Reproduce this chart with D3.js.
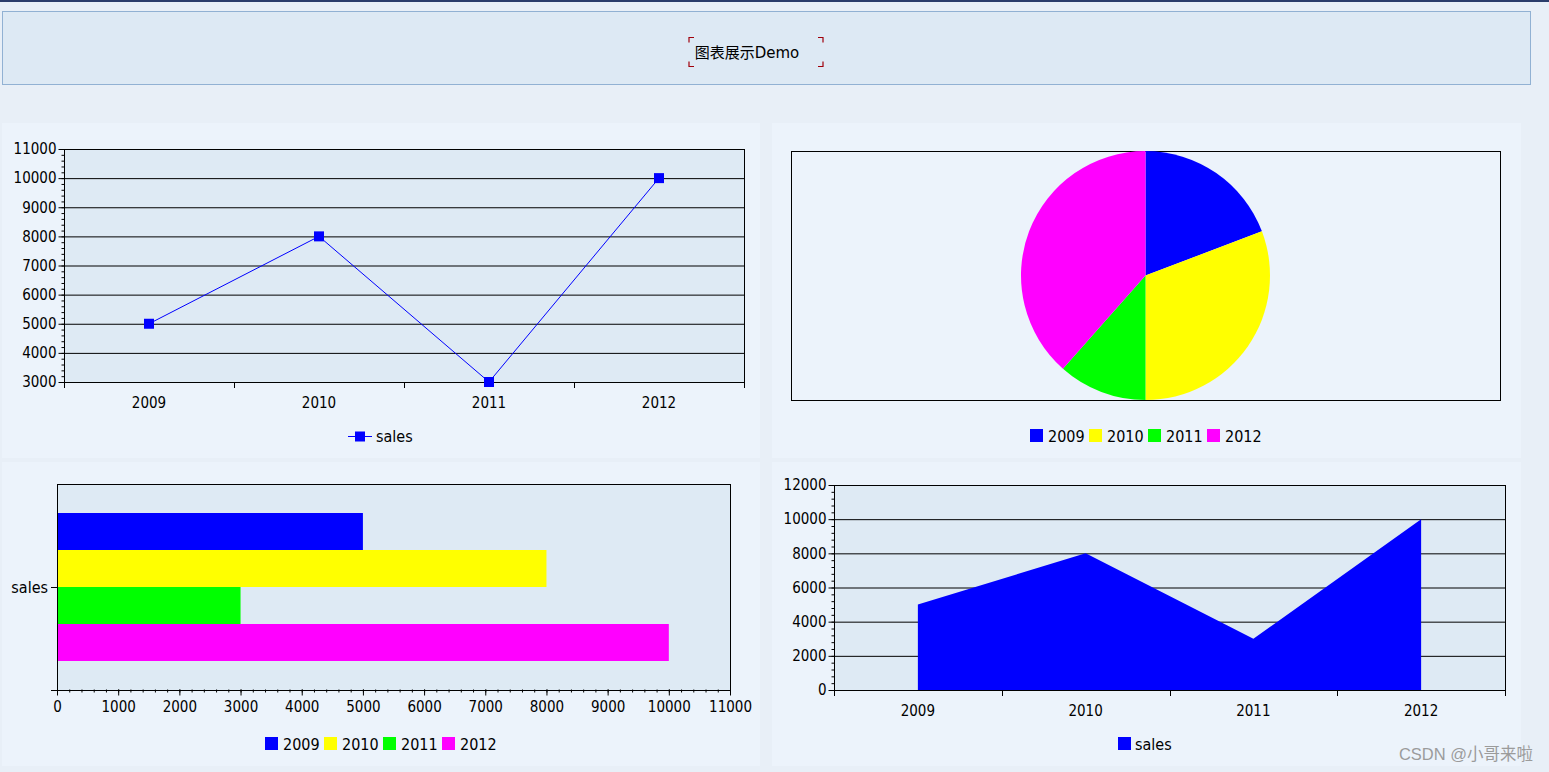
<!DOCTYPE html>
<html>
<head>
<meta charset="utf-8">
<script src="https://cdn.jsdelivr.net/npm/d3@7"></script>
<style>
  html, body { margin: 0; padding: 0; background: #E8EFF7; overflow: hidden; }
  svg { display: block; }
  text { font-family: "DejaVu Sans Condensed", "DejaVu Sans", "Noto Sans CJK SC", sans-serif; fill: #000; }
</style>
</head>
<body>
<svg id="chart" width="1549" height="772"></svg>
<script>
// ---------------- data ----------------
const titleText = "图表展示Demo";
const categories = ["2009", "2010", "2011", "2012"];
const sales = [5000, 8000, 3000, 10000];
const seriesName = "sales";
const sliceColors = ["#0000FF", "#FFFF00", "#00FF00", "#FF00FF"];
const lineTicks = [3000, 4000, 5000, 6000, 7000, 8000, 9000, 10000, 11000];
const barTicks = [0, 1000, 2000, 3000, 4000, 5000, 6000, 7000, 8000, 9000, 10000, 11000];
const areaTicks = [0, 2000, 4000, 6000, 8000, 10000, 12000];
const watermark = "CSDN @小哥来啦";

// ---------------- styles ----------------
const PAGE = "#E8EFF7", PANEL = "#ECF3FB", PLOT = "#DEEAF4";
const FONT = 15;

const svg = d3.select("#chart");
svg.append("rect").attr("width", 1549).attr("height", 772).attr("fill", PAGE);
svg.append("rect").attr("x", 0).attr("y", 0).attr("width", 1549).attr("height", 2).attr("fill", "#2B3D6B");

// title box
svg.append("rect").attr("x", 2.5).attr("y", 11.5).attr("width", 1528).attr("height", 73)
  .attr("fill", "#DDE9F4").attr("stroke", "#91B1D3").attr("stroke-width", 1);
svg.append("text").attr("x", 747).attr("y", 58).attr("text-anchor", "middle")
  .style("font-family", "'DejaVu Sans', 'Noto Sans CJK SC', sans-serif")
  .style("font-size", "15px").text(titleText);
// corner brackets
const br = svg.append("g").attr("stroke", "#A0000A").attr("stroke-width", 1.2).attr("fill", "none");
const bx0 = 689, bx1 = 823, by0 = 37.5, by1 = 66.5, bl = 5;
br.append("path").attr("d", `M${bx0 + bl},${by0}H${bx0}V${by0 + bl}`);
br.append("path").attr("d", `M${bx1 - bl},${by0}H${bx1}V${by0 + bl}`);
br.append("path").attr("d", `M${bx0 + bl},${by1}H${bx0}V${by1 - bl}`);
br.append("path").attr("d", `M${bx1 - bl},${by1}H${bx1}V${by1 - bl}`);

// panels
[[2, 123, 758, 335], [772, 123, 749, 335], [2, 462, 758, 304], [772, 462, 749, 304]].forEach(p => {
  svg.append("rect").attr("x", p[0]).attr("y", p[1]).attr("width", p[2]).attr("height", p[3]).attr("fill", PANEL);
});

function styleAxis(g) {
  g.selectAll("path").remove();
  g.selectAll("line").attr("stroke", "#000");
  g.selectAll("text").style("font-size", FONT + "px").attr("fill", "#000");
}
function minorTicks(domain, step) {
  const out = [];
  for (let v = domain[0]; v <= domain[1] + 1e-9; v += step) out.push(v);
  return out;
}

// ================= 1. Line chart =================
(function () {
  const L = 64, R = 744, T = 149, B = 382;
  const x = d3.scaleBand().domain(categories).range([L, R]);
  const y = d3.scaleLinear().domain([3000, 11000]).range([B, T]);
  const g = svg.append("g");
  g.append("rect").attr("x", L).attr("y", T).attr("width", R - L).attr("height", B - T).attr("fill", PLOT);
  g.append("g").attr("transform", `translate(${L},0)`)
    .call(d3.axisLeft(y).tickValues(lineTicks).tickSize(-(R - L)).tickFormat(""))
    .call(styleAxis);
  g.append("g").attr("transform", `translate(${L + 0.5},0)`)
    .call(d3.axisLeft(y).tickValues(minorTicks(y.domain(), 200)).tickSize(3).tickFormat(""))
    .call(styleAxis);
  g.append("g").attr("transform", `translate(${L + 0.5},0)`)
    .call(d3.axisLeft(y).tickValues(lineTicks).tickSize(6).tickPadding(2).tickFormat(d3.format("d")))
    .call(styleAxis);
  const bounds = categories.map(c => x(c)).concat([x.range()[1]]);
  g.selectAll(".xb").data(bounds).join("line")
    .attr("x1", d => d + 0.5).attr("x2", d => d + 0.5).attr("y1", B).attr("y2", B + 6).attr("stroke", "#000");
  g.selectAll(".xl").data(categories).join("text")
    .attr("x", d => x(d) + x.bandwidth() / 2).attr("y", B + 26).attr("text-anchor", "middle")
    .style("font-size", FONT + "px").text(d => d);
  g.append("rect").attr("x", L + 0.5).attr("y", T + 0.5).attr("width", R - L).attr("height", B - T)
    .attr("fill", "none").attr("stroke", "#000");
  const pts = categories.map((c, i) => [x(c) + x.bandwidth() / 2, y(sales[i])]);
  g.append("path").datum(pts).attr("d", d3.line()).attr("fill", "none").attr("stroke", "#0000FF").attr("stroke-width", 1);
  g.selectAll(".mk").data(pts).join("rect")
    .attr("x", d => d[0] - 5).attr("y", d => d[1] - 5).attr("width", 10).attr("height", 10).attr("fill", "#0000FF");
  const lg = g.append("g").attr("transform", "translate(360,436)");
  lg.append("line").attr("x1", -12).attr("x2", 12).attr("y1", 0.5).attr("y2", 0.5).attr("stroke", "#0000FF");
  lg.append("rect").attr("x", -5).attr("y", -4.5).attr("width", 10).attr("height", 10).attr("fill", "#0000FF");
  lg.append("text").attr("x", 16).attr("y", 6).style("font-size", "16px").text(seriesName);
})();

// ================= 2. Pie chart =================
(function () {
  const g = svg.append("g");
  g.append("rect").attr("x", 791.5).attr("y", 151.5).attr("width", 709).attr("height", 249)
    .attr("fill", PANEL).attr("stroke", "#000");
  const pie = d3.pie().sort(null).value(d => d);
  const arc = d3.arc().innerRadius(0).outerRadius(124.5);
  const pg = g.append("g").attr("transform", "translate(1145.5,275.5)");
  pg.selectAll("path").data(pie(sales)).join("path")
    .attr("d", arc).attr("fill", (d, i) => sliceColors[i]);
  const lx = [1030, 1089, 1148, 1207];
  categories.forEach((c, i) => {
    g.append("rect").attr("x", lx[i]).attr("y", 429).attr("width", 13).attr("height", 13).attr("fill", sliceColors[i]);
    g.append("text").attr("x", lx[i] + 18).attr("y", 442).style("font-size", "16px").text(c);
  });
})();

// ================= 3. Horizontal bar chart =================
(function () {
  const L = 57, R = 730, T = 484, B = 690;
  const x = d3.scaleLinear().domain([0, 11000]).range([L, R]);
  const yOuter = d3.scaleBand().domain([seriesName]).range([T, B]).paddingOuter(0.196).paddingInner(0);
  const yInner = d3.scaleBand().domain(categories).range([0, yOuter.bandwidth()]);
  const g = svg.append("g");
  g.append("rect").attr("x", L).attr("y", T).attr("width", R - L).attr("height", B - T).attr("fill", PLOT);
  g.selectAll(".bar").data(categories).join("rect")
    .attr("x", x(0)).attr("y", d => yOuter(seriesName) + yInner(d))
    .attr("width", (d, i) => x(sales[i]) - x(0)).attr("height", yInner.bandwidth())
    .attr("fill", (d, i) => sliceColors[i]);
  g.append("g").attr("transform", `translate(0,${B - 0.5})`)
    .call(d3.axisBottom(x).tickValues(minorTicks(x.domain(), 200)).tickSize(3).tickFormat(""))
    .call(styleAxis);
  g.append("g").attr("transform", `translate(0,${B - 0.5})`)
    .call(d3.axisBottom(x).tickValues(barTicks).tickSize(6).tickPadding(6).tickFormat(d3.format("d")))
    .call(styleAxis);
  const yc = yOuter(seriesName) + yOuter.bandwidth() / 2;
  g.append("line").attr("x1", L - 6).attr("x2", L).attr("y1", yc + 0.5).attr("y2", yc + 0.5).attr("stroke", "#000");
  g.append("line").attr("x1", L - 6).attr("x2", L).attr("y1", B + 0.5).attr("y2", B + 0.5).attr("stroke", "#000");
  g.append("text").attr("x", L - 9).attr("y", yc + 6).attr("text-anchor", "end").style("font-size", "16px").text(seriesName);
  g.append("rect").attr("x", L + 0.5).attr("y", T + 0.5).attr("width", R - L).attr("height", B - T)
    .attr("fill", "none").attr("stroke", "#000");
  const lx = [265, 324, 383, 442];
  categories.forEach((c, i) => {
    g.append("rect").attr("x", lx[i]).attr("y", 737).attr("width", 13).attr("height", 13).attr("fill", sliceColors[i]);
    g.append("text").attr("x", lx[i] + 18).attr("y", 750).style("font-size", "16px").text(c);
  });
})();

// ================= 4. Area chart =================
(function () {
  const L = 834, R = 1505, T = 485, B = 690;
  const x = d3.scaleBand().domain(categories).range([L, R]);
  const y = d3.scaleLinear().domain([0, 12000]).range([B, T]);
  const g = svg.append("g");
  g.append("rect").attr("x", L).attr("y", T).attr("width", R - L).attr("height", B - T).attr("fill", PLOT);
  g.append("g").attr("transform", `translate(${L},0)`)
    .call(d3.axisLeft(y).tickValues(areaTicks).tickSize(-(R - L)).tickFormat(""))
    .call(styleAxis);
  const pts = categories.map((c, i) => ({ x: x(c) + x.bandwidth() / 2, v: sales[i] }));
  g.append("path").datum(pts)
    .attr("d", d3.area().x(d => d.x).y0(y(0)).y1(d => y(d.v)))
    .attr("fill", "#0000FF");
  g.append("g").attr("transform", `translate(${L + 0.5},0)`)
    .call(d3.axisLeft(y).tickValues(minorTicks(y.domain(), 400)).tickSize(3).tickFormat(""))
    .call(styleAxis);
  g.append("g").attr("transform", `translate(${L + 0.5},0)`)
    .call(d3.axisLeft(y).tickValues(areaTicks).tickSize(6).tickPadding(2).tickFormat(d3.format("d")))
    .call(styleAxis);
  const bounds = categories.map(c => x(c)).concat([x.range()[1]]);
  g.selectAll(".xb").data(bounds).join("line")
    .attr("x1", d => Math.round(d) + 0.5).attr("x2", d => Math.round(d) + 0.5).attr("y1", B).attr("y2", B + 6).attr("stroke", "#000");
  g.selectAll(".xl").data(categories).join("text")
    .attr("x", d => x(d) + x.bandwidth() / 2).attr("y", B + 26).attr("text-anchor", "middle")
    .style("font-size", FONT + "px").text(d => d);
  g.append("rect").attr("x", L + 0.5).attr("y", T + 0.5).attr("width", R - L).attr("height", B - T)
    .attr("fill", "none").attr("stroke", "#000");
  g.append("rect").attr("x", 1118).attr("y", 737).attr("width", 13).attr("height", 13).attr("fill", "#0000FF");
  g.append("text").attr("x", 1135).attr("y", 750).style("font-size", "16px").text(seriesName);
})();

// watermark
svg.append("text").attr("x", 1533).attr("y", 760).attr("text-anchor", "end")
  .style("font-family", "'Liberation Sans', 'Noto Sans CJK SC', sans-serif")
  .style("font-size", "16.5px").style("fill", "#9B9B9B").text(watermark);
</script>
</body>
</html>
